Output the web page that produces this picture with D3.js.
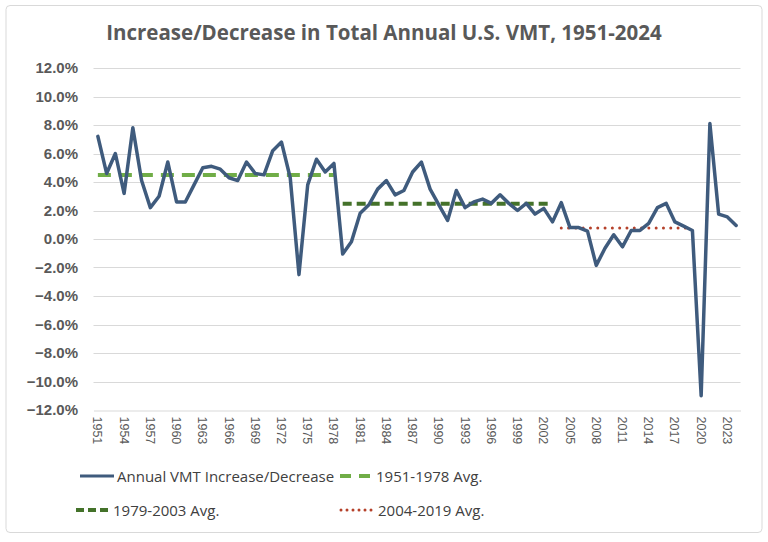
<!DOCTYPE html>
<html>
<head>
<meta charset="utf-8">
<script src="https://cdn.jsdelivr.net/npm/d3@7"></script>
<style>
  body { margin: 0; background: #fff; }
  svg { display: block; }
</style>
</head>
<body>
<svg id="chart" width="768" height="542"></svg>
<script>
const years = d3.range(1951, 2025);
const vmtChange = [
  7.2, 4.6, 6.0, 3.2, 7.8, 4.1, 2.2, 3.0, 5.4, 2.6,
  2.6, 3.8, 5.0, 5.1, 4.9, 4.3, 4.1, 5.4, 4.6, 4.5,
  6.2, 6.8, 4.3, -2.5, 3.8, 5.6, 4.7, 5.3, -1.05, -0.2,
  1.8, 2.4, 3.5, 4.1, 3.1, 3.4, 4.7, 5.4, 3.5, 2.4,
  1.3, 3.4, 2.2, 2.6, 2.8, 2.5, 3.1, 2.5, 2.0, 2.5,
  1.75, 2.15, 1.2, 2.55, 0.8, 0.8, 0.55, -1.85, -0.65, 0.3,
  -0.55, 0.6, 0.6, 1.1, 2.2, 2.5, 1.2, 0.9, 0.6, -11.0,
  8.1, 1.75, 1.55, 0.95
];
const yTicks = [12, 10, 8, 6, 4, 2, 0, -2, -4, -6, -8, -10, -12];
const xTickYears = d3.range(1951, 2025, 3);
const averages = [
  { label: "1951-1978 Avg.", start: 1951, end: 1978, value: 4.5 },
  { label: "1979-2003 Avg.", start: 1979, end: 2003, value: 2.48 },
  { label: "2004-2019 Avg.", start: 2004, end: 2019, value: 0.77 }
];
const seriesName = "Annual VMT Increase/Decrease";
const titleText = "Increase/Decrease in Total Annual U.S. VMT, 1951-2024";

const avgStyles = [
  { color: "#70AD47", width: 4, dash: "13,8", cap: "butt" },
  { color: "#44722A", width: 4, dash: "9,5", cap: "butt" },
  { color: "#B5412A", width: 3, dash: "0,7.3", cap: "round" }
];
const lineColor = "#3F5B7D";

const svg = d3.select("#chart");

// border
svg.append("rect").attr("x", 6).attr("y", 5.5).attr("width", 756).attr("height", 527)
  .attr("rx", 4).attr("fill", "#fff").attr("stroke", "#d9d9d9").attr("stroke-width", 1);

const x = d3.scaleBand().domain(years).range([93.5, 740.5]).padding(0);
const y = d3.scaleLinear().domain([-12, 12]).range([410, 68]);
const cx = d => x(d) + x.bandwidth() / 2;

// title
svg.append("text").attr("x", 384).attr("y", 40).attr("text-anchor", "middle")
  .attr("font-family", "'Open Sans', sans-serif").attr("font-weight", 700)
  .attr("font-size", 20.5).attr("fill", "#595959").text(titleText);

// gridlines
svg.append("g").selectAll("line").data(yTicks.filter(t => t !== -12)).join("line")
  .attr("x1", 93.5).attr("x2", 740.5)
  .attr("y1", d => Math.round(y(d)) + 0.5).attr("y2", d => Math.round(y(d)) + 0.5)
  .attr("stroke", "#d9d9d9").attr("stroke-width", 1);

// y axis labels
const yAxis = d3.axisLeft(y).tickValues(yTicks).tickSize(0).tickPadding(0)
  .tickFormat(d => d3.format(".1f")(d) + "%");
const gy = svg.append("g").attr("transform", "translate(78,0)").call(yAxis);
gy.select(".domain").remove();
gy.selectAll("text").attr("font-family", "'Liberation Sans', Arial, sans-serif")
  .attr("font-weight", 700).attr("font-size", 15).attr("fill", "#595959");

// x axis
const xAxis = d3.axisBottom(x).tickValues(xTickYears).tickSize(0).tickPadding(0);
const gx = svg.append("g").attr("transform", "translate(0,410.5)").call(xAxis);
gx.select(".domain").attr("stroke", "#d9d9d9");
gx.selectAll("text")
  .attr("font-family", "'Liberation Sans', Arial, sans-serif")
  .attr("font-size", 12.5).attr("fill", "#595959")
  .attr("text-anchor", "start")
  .attr("transform", "translate(-4.5,6) rotate(90)")
  .attr("dy", null).attr("y", 0).attr("x", 0);

// averages
averages.forEach((a, i) => {
  const st = avgStyles[i];
  svg.append("line")
    .attr("x1", cx(a.start)).attr("x2", cx(a.end))
    .attr("y1", y(a.value)).attr("y2", y(a.value))
    .attr("stroke", st.color).attr("stroke-width", st.width)
    .attr("stroke-dasharray", st.dash).attr("stroke-linecap", st.cap);
});

// series line
const line = d3.line().x((d, i) => cx(years[i])).y(d => y(d));
svg.append("path").datum(vmtChange).attr("d", line)
  .attr("fill", "none").attr("stroke", lineColor).attr("stroke-width", 3.5)
  .attr("stroke-linejoin", "round").attr("stroke-linecap", "round");

// legend
const legendItems = [
  { label: seriesName, x: 80, y: 476, color: lineColor, width: 3, dash: null, cap: "butt", len: 34 },
  { label: averages[0].label, x: 340, y: 476, ...avgStyles[0], dash: "11,8", len: 33 },
  { label: averages[1].label, x: 76, y: 510, ...avgStyles[1], dash: "8,4", len: 34 },
  { label: averages[2].label, x: 341, y: 510, ...avgStyles[2], dash: "0,6", len: 34 }
];
const lg = svg.append("g");
legendItems.forEach(it => {
  lg.append("line").attr("x1", it.x).attr("x2", it.x + it.len)
    .attr("y1", it.y).attr("y2", it.y)
    .attr("stroke", it.color).attr("stroke-width", it.width)
    .attr("stroke-dasharray", it.dash).attr("stroke-linecap", it.cap);
  lg.append("text").attr("x", it.x + it.len + 3).attr("y", it.y + 5.5)
    .attr("font-family", "'Open Sans', sans-serif").attr("font-size", 15)
    .attr("fill", "#404040").text(it.label);
});
</script>
</body>
</html>
